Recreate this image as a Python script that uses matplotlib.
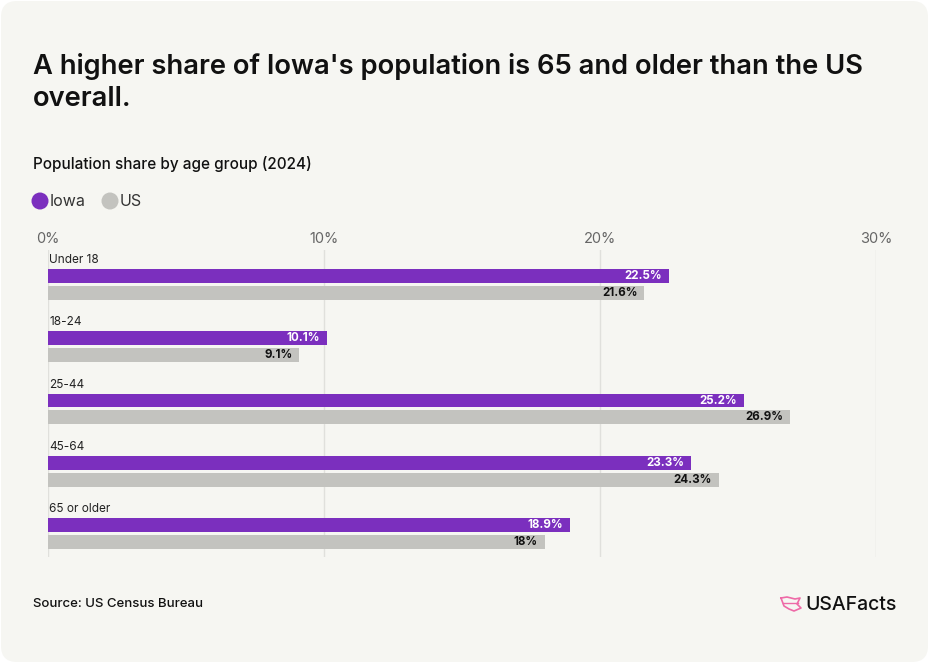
import matplotlib.pyplot as plt
from matplotlib.patches import FancyBboxPatch, Circle

# data
groups = ["Under 18", "18-24", "25-44", "45-64", "65 or older"]
iowa = [22.5, 10.1, 25.2, 23.3, 18.9]
us = [21.6, 9.1, 26.9, 24.3, 18.0]
iowa_labels = ["22.5%", "10.1%", "25.2%", "23.3%", "18.9%"]
us_labels = ["21.6%", "9.1%", "26.9%", "24.3%", "18%"]
ticks = [0, 10, 20, 30]
tick_labels = ["0%", "10%", "20%", "30%"]

W, H = 929, 663
purple = "#7b2fbe"
grey = "#c3c3bf"
bg = "#f6f6f2"

plt.rcParams['font.family'] = ['Inter', 'DejaVu Sans']

fig = plt.figure(figsize=(W / 100, H / 100), dpi=100)
fig.patch.set_facecolor("white")

# card background
card = FancyBboxPatch((1, 1), W - 2, H - 2, boxstyle="round,pad=0,rounding_size=16",
                      transform=None, facecolor=bg, edgecolor="none", zorder=-10)
fig.patches.append(card)

def fx(px):
    return px / W

def fy(py):
    return 1 - py / H

fig.text(fx(33), fy(66), "A higher share of Iowa's population is 65 and older than the US",
         fontsize=19.7, fontweight="semibold", va="center", ha="left", color="#111111")
fig.text(fx(33), fy(99), "overall.",
         fontsize=19.7, fontweight="semibold", va="center", ha="left", color="#111111")
fig.text(fx(33), fy(164), "Population share by age group (2024)",
         fontsize=11, fontweight="medium", va="center", ha="left", color="#111111")

# legend
for cx, txt, col in [(40, "Iowa", purple), (110, "US", grey)]:
    fig.patches.append(Circle((cx, H - 201), 8.5, transform=None, facecolor=col,
                              edgecolor="none", zorder=2))
    fig.text(fx(cx + 10), fy(201), txt, fontsize=11.5, va="center", ha="left", color="#333333")

# axes
top, bottom, left, right = 250, 557, 48, 876
ax = fig.add_axes([fx(left), fy(bottom), (right - left) / W, (bottom - top) / H])
ax.set_facecolor("none")
spacing = 62.3
bh = 14 / spacing
off = 17 / spacing

for i in range(len(groups)):
    ax.barh(i, iowa[i], height=bh, color=purple, zorder=3)
    ax.barh(i + off, us[i], height=bh, color=grey, zorder=3)
    ax.text(iowa[i] - 0.25, i, iowa_labels[i], ha="right", va="center",
            fontsize=8.3, fontweight="bold", color="white", zorder=4)
    ax.text(us[i] - 0.25, i + off, us_labels[i], ha="right", va="center",
            fontsize=8.3, fontweight="bold", color="#111111", zorder=4)
    ax.text(0.05, i - 16 / spacing, groups[i], ha="left", va="center",
            fontsize=8.5, color="#222222", zorder=4)

ax.set_xlim(0, 30)
ax.set_ylim(4 + (bottom - 525) / spacing, (top - 276) / spacing)
ax.set_xticks(ticks)
ax.set_xticklabels(tick_labels)
ax.xaxis.tick_top()
ax.tick_params(axis="x", length=0, pad=3, labelsize=10.5, labelcolor="#666666")
ax.set_yticks([])
for s in ax.spines.values():
    s.set_visible(False)
ax.grid(axis="x", color="#e0e0dc", linewidth=1, zorder=0)

# footer
fig.text(fx(33), fy(604), "Source: US Census Bureau", fontsize=9.5, fontweight="medium",
         va="center", ha="left", color="#111111")
fig.text(fx(805), fy(605), "USAFacts", fontsize=14, fontweight="medium",
         va="center", ha="left", color="#111111")
# simple logo mark
lx = [781, 787, 795, 800, 797, 801, 794, 789, 784, 781]
ly = [598, 597, 599, 598, 604, 608, 611, 609, 606, 598]
fig.lines.append(plt.Line2D([fx(x) for x in lx], [fy(y) for y in ly], transform=fig.transFigure,
                            color="#ee6aa7", linewidth=1.2))
fig.lines.append(plt.Line2D([fx(783), fx(798)], [fy(603), fy(603)], transform=fig.transFigure,
                            color="#ee6aa7", linewidth=1.0))

fig.savefig("out.png", dpi=100, facecolor=fig.get_facecolor())
